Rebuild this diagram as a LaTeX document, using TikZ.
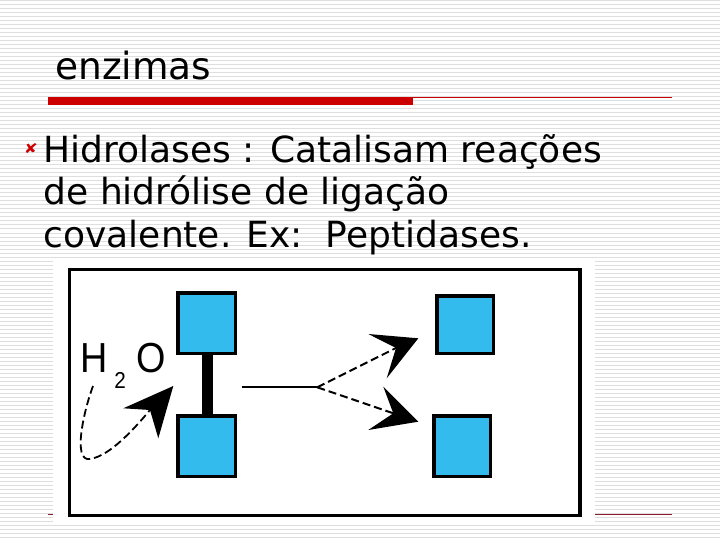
\documentclass[tikz,border=0pt]{standalone}
\usepackage{fontspec}
\setmainfont{DejaVu Sans}
\newfontfamily\titlefont{DejaVu Sans}
\newfontfamily\bodyfont{DejaVu Sans}
\newfontfamily\hfont[FakeStretch=0.9]{Liberation Sans}
\newfontfamily\symfont[FakeStretch=1.25]{DejaVu Sans}
\definecolor{slidered}{RGB}{204,0,0}
\definecolor{stripegray}{RGB}{222,222,222}
\definecolor{boxcyan}{RGB}{51,187,238}
\definecolor{footred}{RGB}{140,30,45}
\begin{document}
\begin{tikzpicture}[x=1pt,y=-1pt,
  stripeline/.style={stripegray,line width=1pt},
  txt/.style={inner sep=0pt,anchor=base west},
  bodytxt/.style={txt,font=\bodyfont\fontsize{36pt}{43pt}\selectfont},
  sq/.style={draw=black,line width=3.5pt,fill=boxcyan,inner sep=0pt},
  dashline/.style={line width=2pt,dash pattern=on 8pt off 4pt},
  head/.style={fill=black}]
\useasboundingbox (0,0) rectangle (720,540);
\fill[white] (0,0) rectangle (720,540);
\foreach \y in {1,5,...,537} \draw[stripeline] (0,\y) -- (720,\y);
% title
\node[txt,font=\titlefont\fontsize{37.5pt}{40pt}\selectfont] (title) at (55,79.5) {enzimas};
\fill[slidered] (48,97) rectangle (413,105.5);
\draw[slidered,line width=1pt] (413,97.5) -- (672,97.5);
% bullet text
\node[inner sep=0pt,text=slidered,font=\symfont\fontsize{13.5pt}{13.5pt}\selectfont] (bullet) at (31,149) {✘};
\node[bodytxt] (l1) at (43.5,162.5) {Hidrolases : Catalisam reações};
\node[bodytxt] (l2) at (43.5,205) {de hidrólise de ligação};
\node[bodytxt] (l3) at (43.5,247.5) {covalente. Ex:\ \ Peptidases.};
% footer line (mostly hidden by the picture)
\draw[footred,line width=1pt] (48,514) -- (672,514);
% picture
\fill[white] (53,259) rectangle (595,525);
\draw[line width=3.5pt] (69.5,269.5) rectangle (580,515.5);
\node[sq,minimum width=57.5pt,minimum height=60.5pt] (tl) at (206.5,323) {};
\node[sq,minimum width=57.5pt,minimum height=60.5pt] (bl) at (206.5,446) {};
\node[sq,minimum width=56.5pt,minimum height=57.5pt] (tr) at (465,324.5) {};
\node[sq,minimum width=56.5pt,minimum height=60.5pt] (br) at (462,446) {};
\draw[line width=11pt] ([xshift=0.8pt]tl.south) -- ([xshift=0.8pt]bl.north);
% H2O
\node[txt,font=\hfont\fontsize{42pt}{42pt}\selectfont] (h) at (80,372) {H};
\node[txt,font=\hfont\fontsize{23pt}{23pt}\selectfont] (two) at (114.2,388.5) {2};
\node[txt,font=\hfont\fontsize{42pt}{42pt}\selectfont] (o) at (136,372.5) {O};
% reaction arrow
\coordinate (lstart) at (241.7,387.3);
\coordinate (fork) at (317.3,387.3);
\coordinate (notchU) at (396,348);
\coordinate (notchD) at (393.3,413.3);
\draw[line width=2pt] (lstart) -- (fork);
\draw[dashline] (fork) -- (notchU);
\draw[dashline] (fork) -- (notchD);
\fill[head] (418.3,338.3) -- (368.3,334) -- (notchU) -- (386.7,378.3) -- cycle;
\fill[head] (418.3,421.7) -- (383.3,386.7) -- (notchD) -- (368.3,430) -- cycle;
% water curved arrow
\coordinate (wstart) at (93,386);
\coordinate (notchW) at (150,410);
\draw[line width=1.8pt,dash pattern=on 8pt off 4pt]
  (wstart) .. controls (84,410) and (72,462) .. (90,459)
  .. controls (110,456) and (135,428) .. (notchW);
\fill[head] (173.3,386) -- (123.3,408.3) -- (notchW) -- (158.3,438.3) -- cycle;
\end{tikzpicture}
\end{document}
